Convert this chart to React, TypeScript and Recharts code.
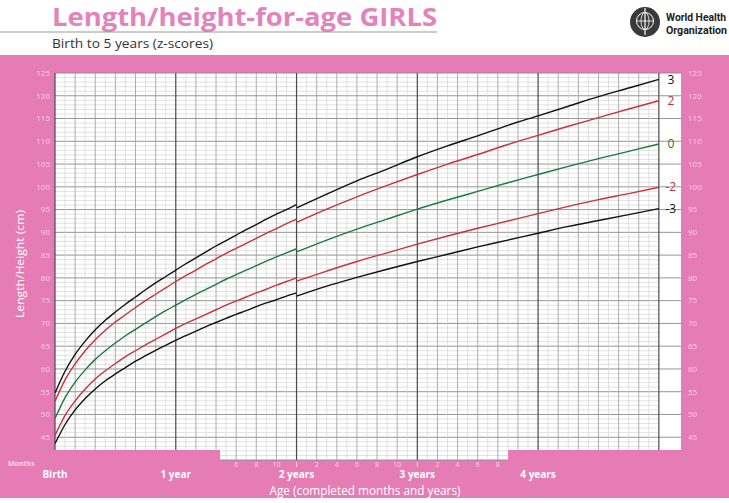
import { Line, LineChart, ReferenceArea, ReferenceLine, XAxis, YAxis } from "recharts"

const lengthMonths = [0, 1, 2, 3, 4, 5, 6, 7, 8, 9, 10, 11, 12, 13, 14, 15, 16, 17, 18, 19, 20, 21, 22, 23, 24]
const lengthM3 = [43.6, 47.8, 51.0, 53.5, 55.6, 57.4, 58.9, 60.3, 61.7, 62.9, 64.1, 65.2, 66.3, 67.3, 68.3, 69.3, 70.2, 71.1, 72.0, 72.8, 73.7, 74.5, 75.2, 76.0, 76.7]
const lengthM2 = [45.4, 49.8, 53.0, 55.6, 57.8, 59.6, 61.2, 62.7, 64.0, 65.3, 66.5, 67.7, 68.9, 70.0, 71.0, 72.0, 73.0, 74.0, 74.9, 75.8, 76.7, 77.5, 78.4, 79.2, 80.0]
const lengthMed = [49.1, 53.7, 57.1, 59.8, 62.1, 64.0, 65.7, 67.3, 68.7, 70.1, 71.5, 72.8, 74.0, 75.2, 76.4, 77.5, 78.6, 79.7, 80.7, 81.7, 82.7, 83.7, 84.6, 85.5, 86.4]
const lengthP2 = [52.9, 57.6, 61.1, 64.0, 66.4, 68.5, 70.3, 71.9, 73.5, 75.0, 76.4, 77.8, 79.2, 80.5, 81.7, 83.0, 84.2, 85.4, 86.5, 87.6, 88.7, 89.8, 90.8, 91.9, 92.9]
const lengthP3 = [54.7, 59.5, 63.2, 66.1, 68.6, 70.7, 72.5, 74.2, 75.8, 77.4, 78.9, 80.3, 81.7, 83.1, 84.4, 85.7, 87.0, 88.2, 89.4, 90.6, 91.7, 92.9, 94.0, 95.0, 96.1]

const heightMonths = [24, 27, 30, 33, 36, 39, 42, 45, 48, 51, 54, 57, 60]
const heightM3 = [76.0, 78.2, 80.1, 81.9, 83.6, 85.2, 86.8, 88.3, 89.8, 91.3, 92.6, 93.9, 95.2]
const heightM2 = [79.3, 81.5, 83.6, 85.5, 87.4, 89.2, 90.9, 92.5, 94.1, 95.7, 97.2, 98.5, 99.9]
const heightMed = [85.7, 88.3, 90.7, 92.9, 95.1, 97.1, 99.0, 100.9, 102.7, 104.5, 106.2, 107.8, 109.4]
const heightP2 = [92.2, 95.1, 97.8, 100.3, 102.7, 105.0, 107.1, 109.3, 111.3, 113.3, 115.2, 117.1, 118.9]
const heightP3 = [95.4, 98.4, 101.3, 103.9, 106.6, 109.0, 111.2, 113.5, 115.6, 117.7, 119.8, 121.7, 123.6]

const yTicks = [45, 50, 55, 60, 65, 70, 75, 80, 85, 90, 95, 100, 105, 110, 115, 120, 125]
const yearTicks = [0, 12, 24, 36, 48]
const yearLabels = ["Birth", "1 year", "2 years", "3 years", "4 years"]
const monthTicks = [18, 20, 22, 24, 26, 28, 30, 32, 34, 36, 38, 40, 42, 44]

const zLines = [
  { key: "p3", label: "3", color: "#111111" },
  { key: "p2", label: "2", color: "#c8323a" },
  { key: "med", label: "0", color: "#1a7a40" },
  { key: "m2", label: "-2", color: "#c8323a" },
  { key: "m3", label: "-3", color: "#111111" },
]

const lengthData = lengthMonths.map((month, i) => ({ month, m3: lengthM3[i], m2: lengthM2[i], med: lengthMed[i], p2: lengthP2[i], p3: lengthP3[i] }))
const heightData = heightMonths.map((month, i) => ({ month, m3: heightM3[i], m2: heightM2[i], med: heightMed[i], p2: heightP2[i], p3: heightP3[i] }))

const PINK = "#e67cb5"
const X_MAX = 62.2
const Y_MIN = 40
const LOW = 42.2
const EXT_A = 16.4
const EXT_B = 45

const allMonths = Array.from({ length: 61 }, (_, i) => i)
const allCm = Array.from({ length: 86 }, (_, i) => 40 + i)
const xTicks = [...yearTicks, ...monthTicks.filter((m) => m % 12 !== 0)].sort((a, b) => a - b)

function vStyle(m: number) {
  if (m % 12 === 0) return { stroke: "#4a4a4a", strokeWidth: 1.2 }
  if (m % 2 === 0) return { stroke: "#9a9a9a", strokeWidth: 0.8 }
  return { stroke: "#cfcfcf", strokeWidth: 0.6 }
}

// one tick renders the small month number, the year mark and the year name
function AgeTick({ x, y, payload }: any) {
  const m = payload.value as number
  const yi = yearTicks.indexOf(m)
  const inMonths = monthTicks.includes(m)
  return (
    <g>
      {inMonths && m % 12 !== 0 && (
        <text x={x} y={y + 7} textAnchor="middle" fontSize={7} fill="#f7d6e8" fontFamily="Open Sans">{m % 12}</text>
      )}
      {inMonths && m % 12 === 0 && <line x1={x} x2={x} y1={y + 2} y2={y + 7} stroke="#f7d6e8" strokeWidth={1} />}
      {yi >= 0 && (
        <text x={x} y={y + 18} textAnchor="middle" fontSize={10} fontWeight="bold" fill="#ffffff" fontFamily="Open Sans">{yearLabels[yi]}</text>
      )}
    </g>
  )
}

function endLabel(text: string, color: string, last: number) {
  return (props: any) => {
    if (props.index !== last) return <g />
    return <text x={props.x + 12} y={props.y} dy="0.35em" textAnchor="middle" fontSize={12} fill={color} fontFamily="Open Sans">{text}</text>
  }
}

const tickStyle = { fontSize: 8, fill: "#f7cfe4", fontFamily: "Open Sans" }

export default function App() {
  return (
    <div style={{ position: "relative", width: 729, height: 503, background: "#fff", overflow: "hidden", fontFamily: "Open Sans" }}>
      <style>{"body{margin:0}"}</style>
      <div style={{ position: "absolute", left: 0, top: 55, width: 729, height: 443, background: PINK }} />
      <svg width={729} height={55} style={{ position: "absolute", left: 0, top: 0 }}>
        <text x={52} y={26} fontSize={25} fontWeight="bold" fill="#e483bb" fontFamily="Open Sans" textLength={385} lengthAdjust="spacingAndGlyphs">Length/height-for-age GIRLS</text>
        <line x1={0} x2={437} y1={32} y2={32} stroke="#9a9a9a" strokeWidth={1} />
        <text x={52} y={48} fontSize={12.5} fill="#333" fontFamily="Open Sans" textLength={161} lengthAdjust="spacingAndGlyphs">Birth to 5 years (z-scores)</text>
        <g>
          <circle cx={645} cy={22} r={15} fill="#3a3a3a" />
          <circle cx={645} cy={21} r={8.5} fill="none" stroke="#fff" strokeWidth={1} />
          <ellipse cx={645} cy={21} rx={4} ry={8.5} fill="none" stroke="#fff" strokeWidth={0.8} />
          <line x1={636.5} x2={653.5} y1={21} y2={21} stroke="#fff" strokeWidth={0.8} />
          <line x1={645} x2={645} y1={8} y2={35} stroke="#fff" strokeWidth={1.2} />
        </g>
        <text x={666} y={21} fontSize={10.5} fontWeight="bold" fill="#222" fontFamily="Roboto" textLength={60} lengthAdjust="spacingAndGlyphs">World Health</text>
        <text x={666} y={34} fontSize={10.5} fontWeight="bold" fill="#222" fontFamily="Roboto" textLength={61} lengthAdjust="spacingAndGlyphs">Organization</text>
      </svg>
      <div style={{ position: "absolute", left: 0, top: 0 }}>
        <LineChart width={729} height={503} margin={{ top: 73, right: 0, bottom: 0, left: 0 }}>
          <XAxis dataKey="month" type="number" domain={[0, X_MAX]} allowDataOverflow ticks={xTicks} interval={0} axisLine={false} tickLine={false} tickSize={0} tickMargin={0} height={43} tick={<AgeTick />} />
          <YAxis yAxisId="left" type="number" domain={[Y_MIN, 125]} allowDataOverflow ticks={yTicks} interval={0} width={55} axisLine={false} tickLine={false} tickSize={0} tickMargin={5} tick={tickStyle} />
          <YAxis yAxisId="right" orientation="right" type="number" domain={[Y_MIN, 125]} allowDataOverflow ticks={yTicks} interval={0} width={48} axisLine={false} tickLine={false} tickSize={0} tickMargin={7} tick={{ ...tickStyle, textAnchor: "start" }} />
          <ReferenceArea yAxisId="left" x1={0} x2={X_MAX} y1={LOW} y2={125} fill="#ffffff" fillOpacity={1} stroke="none" />
          <ReferenceArea yAxisId="left" x1={EXT_A} x2={EXT_B} y1={Y_MIN} y2={LOW} fill="#ffffff" fillOpacity={1} stroke="none" />
          {allCm.map((v) => {
            const major = v % 5 === 0
            const x1 = v < LOW ? EXT_A : 0
            const x2 = v < LOW ? EXT_B : major ? X_MAX : 60
            return <ReferenceLine key={"h" + v} yAxisId="left" segment={[{ x: x1, y: v }, { x: x2, y: v }]} stroke={major ? "#8a8a8a" : "#cfcfcf"} strokeWidth={major ? 0.9 : 0.6} />
          })}
          {allMonths.map((m) => {
            const lo = m > EXT_A && m < EXT_B ? Y_MIN : LOW
            return <ReferenceLine key={"v" + m} yAxisId="left" segment={[{ x: m, y: lo }, { x: m, y: 125 }]} {...vStyle(m)} />
          })}
          {zLines.map((z) => (
            <Line key={"l" + z.key} yAxisId="left" data={lengthData} dataKey={z.key} type="monotone" stroke={z.color} strokeWidth={1.4} dot={false} activeDot={false} isAnimationActive={false} />
          ))}
          {zLines.map((z) => (
            <Line key={"h" + z.key} yAxisId="left" data={heightData} dataKey={z.key} type="monotone" stroke={z.color} strokeWidth={1.4} dot={false} activeDot={false} isAnimationActive={false} label={endLabel(z.label, z.color, heightData.length - 1)} />
          ))}
        </LineChart>
      </div>
      <svg width={729} height={503} style={{ position: "absolute", left: 0, top: 0, pointerEvents: "none" }}>
        <text x={8} y={466} fontSize={7} fontWeight="bold" fill="#f7d6e8" fontFamily="Open Sans">Months</text>
        <text x={365} y={495} textAnchor="middle" fontSize={12.5} fill="#ffffff" fontFamily="Open Sans" textLength={191} lengthAdjust="spacingAndGlyphs">Age (completed months and years)</text>
        <text transform="translate(24,264) rotate(-90)" textAnchor="middle" fontSize={11.5} fill="#ffffff" fontFamily="Open Sans" textLength={108} lengthAdjust="spacingAndGlyphs">Length/Height (cm)</text>
      </svg>
    </div>
  )
}
